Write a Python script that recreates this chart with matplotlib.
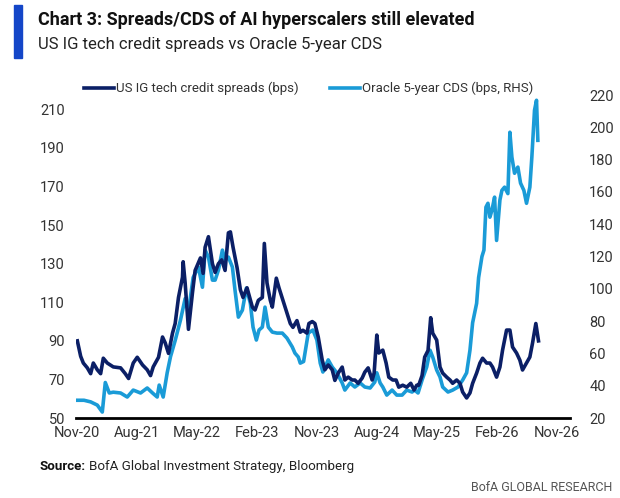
import numpy as np
import matplotlib
matplotlib.use("Agg")
import matplotlib.pyplot as plt
from matplotlib.patches import Rectangle

plt.rcParams['font.family'] = ['Roboto', 'DejaVu Sans']

# months since Nov-20 and values
ig_months = [0.0, 0.5, 0.9, 1.5, 2.0, 2.4, 3.0, 3.5, 3.9, 4.5, 5.4, 6.5, 7.2, 7.7, 8.4, 9.0,
             9.8, 10.5, 11.0, 11.4, 12.2, 12.8, 13.2, 13.7, 14.3, 14.7, 15.2, 15.8, 15.9, 16.2,
             16.7, 17.3, 17.7, 18.5, 18.9, 19.2, 19.7, 20.3, 20.7, 21.2, 21.7, 22.2, 22.7, 23.0,
             23.4, 24.0, 24.5, 24.9, 25.5, 26.3, 26.7, 27.2, 27.8, 28.1, 28.5, 29.0, 29.3, 29.9,
             30.3, 30.9, 31.5, 32.0, 32.4, 33.0, 33.5, 33.9, 34.5, 34.8, 35.3, 35.7, 36.2, 36.8,
             37.2, 37.7, 38.3, 38.7, 39.2, 39.8, 40.2, 40.7, 41.3, 41.7, 42.2, 42.8, 43.2, 43.7,
             44.3, 44.6, 45.0, 45.3, 45.9, 46.4, 46.8, 47.4, 47.9, 48.3, 48.9, 49.5, 50.1, 50.6,
             51.0, 51.3, 51.8, 52.2, 52.7, 53.1, 53.4, 54.0, 54.5, 54.9, 55.5, 56.0, 56.4, 57.0,
             57.5, 57.9, 58.5, 59.0, 59.4, 60.0, 60.5, 60.9, 61.5, 62.0, 62.4, 63.0, 63.5, 63.9,
             64.5, 65.0, 65.4, 66.0, 66.5, 66.9, 67.5, 68.0, 68.4, 68.9, 69.3]
ig_spread = [90, 82, 78.5, 76, 73, 78.5, 75, 73, 81, 78.5, 76.5, 76, 73, 70.5, 78.5, 81.5,
             77.5, 75, 72, 76.5, 81.5, 92, 89, 83.5, 94, 99, 112.5, 123, 131, 120,
             96, 115, 126.5, 133, 125, 138.5, 144, 130, 125.5, 130, 132, 126.5, 146, 146.5,
             138.5, 128, 116.5, 112.5, 117.5, 107.5, 106, 111, 112.5, 140.5, 120, 111, 107.5, 122.5,
             117.5, 111, 104.5, 99, 97, 100.5, 94.5, 95.5, 94, 99, 100, 99, 92, 80,
             75, 77.5, 75, 69.5, 73.3, 76.4, 69.7, 71.2, 69.7, 69.7, 68, 70.7, 73.8, 76,
             69.7, 73.3, 93, 83.7, 85.2, 78.5, 71.2, 69.7, 69.7, 66, 67, 66, 68, 64.5,
             67, 67, 72, 81.6, 85, 102, 94, 90.4, 76.4, 73.3, 71.2, 69.7, 68, 69.7,
             68, 63.5, 60.4, 63, 68, 73.3, 78.5, 81, 78.5, 78.5, 76.4, 71.2, 76.4, 85.2,
             95.6, 95.6, 86.8, 83.7, 80, 74.9, 78.5, 81.6, 88.8, 99, 90]

orcl_months = [0.0, 1.0, 2.0, 3.0, 3.75, 4.2, 4.8, 5.4, 6.5, 7.5, 8.4, 9.5, 10.5, 11.3, 12.0,
               12.3, 12.9, 13.5, 14.0, 14.7, 15.5, 16.2, 16.7, 17.4, 18.2, 18.8, 19.2, 19.7, 20.3,
               20.7, 21.2, 21.8, 22.2, 22.7, 23.3, 23.7, 24.2, 24.8, 25.4, 26.0, 26.4, 26.9, 27.3,
               27.8, 28.2, 28.7, 29.3, 30.0, 30.8, 31.5, 32.3, 32.7, 33.2, 33.5, 34.0, 34.7, 35.4,
               36.0, 36.5, 36.9, 37.7, 38.3, 39.0, 39.8, 40.2, 41.0, 41.7, 42.5, 43.2, 44.0, 44.7,
               45.0, 45.5, 45.9, 46.5, 47.3, 48.0, 48.8, 49.5, 50.3, 50.7, 51.2, 51.8, 52.5, 53.0,
               53.4, 54.0, 54.5, 54.9, 55.7, 56.4, 57.2, 57.9, 58.5, 59.0, 59.4, 60.0, 60.3, 60.8,
               61.1, 61.4, 61.7, 62.0, 62.3, 62.7, 63.0, 63.5, 63.8, 64.2, 64.7, 65.0, 65.3, 65.7,
               66.2, 66.6, 67.1, 67.5, 68.0, 68.3, 68.7, 69.0, 69.2]
orcl_cds = [31, 31, 30, 28, 23.7, 42, 35.5, 36, 35.5, 33, 37.3, 35.5, 38.6, 35.5, 33,
            40.4, 33, 48, 58, 68, 80.7, 94, 86, 107, 113.5, 101, 124, 119.7, 105.4,
            105.4, 111.6, 124, 117.8, 119.7, 113.5, 99, 82.5, 86.8, 100.5, 91, 76.3, 68.3, 74.5,
            76.3, 88.7, 76.3, 73.2, 72.6, 72.6, 69.5, 64, 60.2, 57.8, 54, 55, 72.6, 74.5,
            68.3, 54, 48.5, 56, 51.6, 48, 41.7, 37.3, 41.7, 39.2, 41.7, 39.2, 38.6, 42.3,
            48, 41.7, 39.2, 34.2, 37.3, 34.2, 34.2, 37.3, 36.1, 37.3, 35.5, 43.5, 51.6, 62,
            57.8, 49.7, 45.4, 39.2, 36.1, 37.3, 39.2, 43.5, 48, 62, 79, 91, 107, 120,
            124, 150.6, 153, 144.4, 148.7, 156.8, 130, 155, 161, 163, 159, 197, 181.6, 171.6,
            175.4, 165.5, 161, 153, 163, 181.6, 210.6, 216.8, 192]

tick_pos = [0, 9, 18, 27, 36, 45, 54, 63, 72]
tick_labels = ['Nov-20', 'Aug-21', 'May-22', 'Feb-23', 'Nov-23', 'Aug-24', 'May-25', 'Feb-26', 'Nov-26']

navy = '#0b1f66'
sky = '#1a9bd7'
txt = '#333333'

fig = plt.figure(figsize=(6.2, 4.98), dpi=100)
ax = fig.add_axes([0.1226, 0.1606, 0.7964, 0.6484])
ax2 = ax.twinx()

ax2.plot(orcl_months, orcl_cds, color=sky, lw=2.6, label='Oracle 5-year CDS (bps, RHS)', zorder=2)
ax.plot(ig_months, ig_spread, color=navy, lw=2.6, label='US IG tech credit spreads (bps)', zorder=3)
ax.set_zorder(ax2.get_zorder() + 1)
ax.patch.set_visible(False)

ax.set_xlim(-0.2, 74)
ax.set_ylim(50, 217.4)
ax2.set_ylim(20, 220)
ax.set_yticks(np.arange(50, 211, 20))
ax2.set_yticks(np.arange(20, 221, 20))
ax.set_xticks(tick_pos)
ax.set_xticklabels(tick_labels)

for a in (ax, ax2):
    for s in ('top', 'right', 'left', 'bottom'):
        a.spines[s].set_visible(False)
    a.tick_params(length=0, labelsize=10.5, colors=txt)
ax.spines['bottom'].set_visible(True)
ax.spines['bottom'].set_linewidth(2)
ax.spines['bottom'].set_color('black')
ax.tick_params(axis='x', pad=6)
ax.tick_params(axis='y', pad=8)
ax2.tick_params(axis='y', pad=14)

h1, l1 = ax.get_legend_handles_labels()
h2, l2 = ax2.get_legend_handles_labels()
fig.legend(h1 + h2, l1 + l2, loc='center left', bbox_to_anchor=(84 / 620, 0.822), ncol=2,
           frameon=False, fontsize=9.5, handlelength=2.3, handletextpad=0.1,
           columnspacing=2.4, labelcolor=txt, borderaxespad=0, borderpad=0)

fig.patches.append(Rectangle((14 / 620, 1 - 58 / 498), 8 / 620, 53 / 498,
                             transform=fig.transFigure, color='#1446c8'))
fig.text(38 / 620, 1 - 20 / 498, 'Chart 3: Spreads/CDS of AI hyperscalers still elevated',
         fontsize=13, fontweight='bold', color='#111111', va='center')
fig.text(38 / 620, 1 - 45 / 498, 'US IG tech credit spreads vs Oracle 5-year CDS',
         fontsize=12, color='#222222', va='center')

src = fig.text(40 / 620, 1 - 466 / 498, 'Source:', fontsize=9.6, fontweight='bold',
               color='#111111', va='center')
fig.canvas.draw()
bb = src.get_window_extent()
fig.text(bb.x1 / fig.bbox.width + 0.004, 1 - 466 / 498,
         'BofA Global Investment Strategy, Bloomberg', fontsize=9.6, color='#222222', va='center')
fig.text(612 / 620, 1 - 487 / 498, 'BofA GLOBAL RESEARCH', fontsize=9, color='#555555',
         va='center', ha='right')

fig.savefig('out.png', dpi=100)
